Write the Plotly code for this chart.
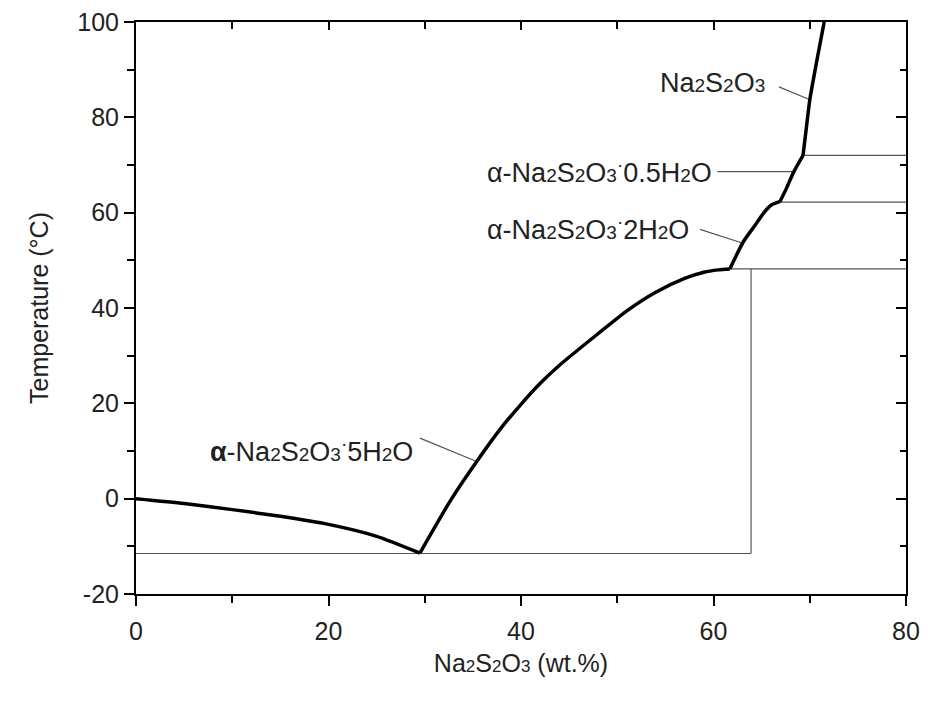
import plotly.graph_objects as go

# ---- data ----
ice_x = [0, 5, 10, 15, 20, 25, 29.5]
ice_y = [0, -1.0, -2.3, -3.7, -5.4, -7.9, -11.4]

penta_x = [29.5, 32.7, 35.4, 38, 40, 42, 44, 48, 51, 54, 57, 59, 60.5, 61.7]
penta_y = [-11.4, -0.3, 7.8, 15.0, 19.8, 24.2, 28.0, 34.6, 39.4, 43.3, 46.2, 47.5, 48.0, 48.2]

di_x = [61.7, 63.1, 64.3, 65.2, 66.0, 66.9]
di_y = [48.2, 53.9, 57.3, 59.9, 61.6, 62.3]

hemi_x = [66.9, 67.6, 68.3, 69.3]
hemi_y = [62.3, 65.2, 68.4, 72.0]

anh_x = [69.3, 69.6, 70.0, 70.7, 71.5]
anh_y = [72.0, 77.0, 83.6, 91.5, 100]

# thin phase-boundary lines
eutectic_x = [0, 63.9]
eutectic_y = [-11.5, -11.5]
vert_x = [63.9, 63.9]
vert_y = [-11.5, 48.2]
t48_x = [61.7, 80]
t48_y = [48.2, 48.2]
t62_x = [66.9, 80]
t62_y = [62.2, 62.2]
t72_x = [69.3, 80]
t72_y = [72.0, 72.0]


def sub(d, px=19):
    return '<span style="font-size:%dpx">%s</span>' % (px, d)


NA = "Na" + sub("2") + "S" + sub("2") + "O" + sub("3")
DOT = "<sup>·</sup>"
label_texts = [
    NA,
    "α-" + NA + DOT + "0.5H" + sub("2") + "O",
    "α-" + NA + DOT + "2H" + sub("2") + "O",
    "<b>α</b>-" + NA + DOT + "5H" + sub("2") + "O",
]
label_x = [65.6, 60.0, 57.7, 29.0]
label_y = [87.2, 68.7, 56.7, 10.3]
leader_x = [[66.8, 69.9], [60.4, 68.3], [58.6, 62.9], [29.5, 35.4]]
leader_y = [[86.4, 83.8], [68.6, 68.6], [56.5, 53.7], [12.7, 7.8]]

x_ticks = [0, 20, 40, 60, 80]
x_tick_labels = ["0", "20", "40", "60", "80"]
x_minor = [10, 30, 50, 70]
y_ticks = [-20, 0, 20, 40, 60, 80, 100]
y_tick_labels = ["-20", "0", "20", "40", "60", "80", "100"]
y_minor = [-10, 10, 30, 50, 70, 90]
x_range = [0, 80]
y_range = [-20, 100]

FONT = "Liberation Sans, Arial, sans-serif"
TXT = "#222222"

fig = go.Figure()

thin = dict(color="#555555", width=1.2)
for xs, ys in [(eutectic_x, eutectic_y), (vert_x, vert_y), (t48_x, t48_y),
               (t62_x, t62_y), (t72_x, t72_y)]:
    fig.add_trace(go.Scatter(x=xs, y=ys, mode="lines", line=thin,
                             hoverinfo="skip", showlegend=False))

for xs, ys in zip(leader_x, leader_y):
    fig.add_trace(go.Scatter(x=xs, y=ys, mode="lines",
                             line=dict(color="#555555", width=1.2),
                             hoverinfo="skip", showlegend=False))

thick = dict(color="black", width=3.5, shape="spline", smoothing=0.6)
for xs, ys in [(ice_x, ice_y), (penta_x, penta_y), (di_x, di_y),
               (hemi_x, hemi_y), (anh_x, anh_y)]:
    fig.add_trace(go.Scatter(x=xs, y=ys, mode="lines", line=thick,
                             showlegend=False))

# dummy trace for mirror axes
fig.add_trace(go.Scatter(x=[None], y=[None], xaxis="x2", yaxis="y2",
                         showlegend=False, hoverinfo="skip"))

for t, xx, yy in zip(label_texts, label_x, label_y):
    fig.add_annotation(x=xx, y=yy, text=t, showarrow=False, xanchor="right",
                       yanchor="middle", font=dict(family=FONT, size=27, color=TXT))

tk = dict(tickwidth=2, tickcolor="black")

fig.update_layout(
    width=928, height=702,
    margin=dict(l=136, r=22, t=22, b=108, autoexpand=False),
    paper_bgcolor="white", plot_bgcolor="white",
    font=dict(family=FONT, size=25, color=TXT),
    xaxis=dict(range=x_range, showgrid=False, zeroline=False, showline=True,
               linecolor="black", linewidth=2, ticks="outside", ticklen=10, **tk,
               tickvals=x_ticks, ticktext=x_tick_labels, ticklabelstandoff=4,
               ticklabeloverflow="allow", automargin=False,
               minor=dict(tickvals=x_minor, ticks="outside", ticklen=7, **tk),
               title=dict(text="Na" + sub("2", 17) + "S" + sub("2", 17) + "O" + sub("3", 17) + " (wt.%)",
                          font=dict(size=25), standoff=10),
               tickfont=dict(size=25)),
    yaxis=dict(range=y_range, showgrid=False, zeroline=False, showline=True,
               linecolor="black", linewidth=2, ticks="outside", ticklen=10, **tk,
               tickvals=y_ticks, ticktext=y_tick_labels,
               ticklabeloverflow="allow", automargin=False,
               minor=dict(tickvals=y_minor, ticks="outside", ticklen=7, **tk),
               title=dict(text="Temperature (°C)", font=dict(size=25), standoff=22),
               tickfont=dict(size=25)),
    xaxis2=dict(range=x_range, overlaying="x", side="top", showgrid=False,
                zeroline=False, showline=True, linecolor="black", linewidth=2,
                ticks="inside", ticklen=8, **tk, tickvals=x_ticks,
                showticklabels=False, anchor="y2", automargin=False,
                minor=dict(tickvals=x_minor, ticks="inside", ticklen=7, **tk)),
    yaxis2=dict(range=y_range, overlaying="y", side="right", showgrid=False,
                zeroline=False, showline=True, linecolor="black", linewidth=2,
                ticks="inside", ticklen=10, **tk, tickvals=y_ticks,
                showticklabels=False, anchor="x2", automargin=False,
                minor=dict(tickvals=y_minor, ticks="inside", ticklen=6, **tk)),
)

fig.write_html("out.html",
               config={"displayModeBar": False},
               post_script="document.body.style.margin='0';"
                           "document.body.style.overflow='hidden';")
